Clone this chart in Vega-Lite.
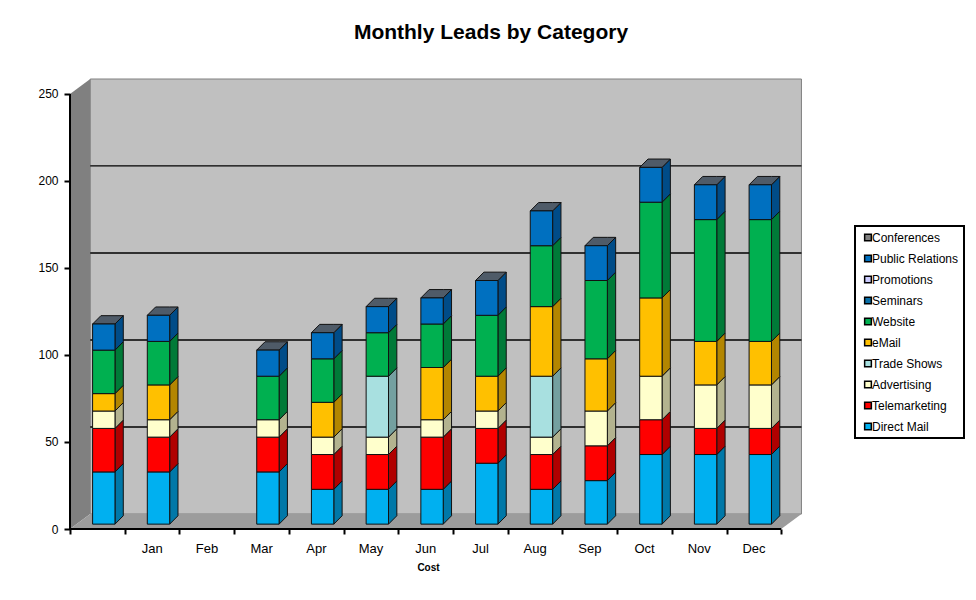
{"$schema":"https://vega.github.io/schema/vega-lite/v6.json","width":732,"height":450,"autosize":"none","padding":{"left":70,"top":79,"right":174,"bottom":71},"background":"white",
"title":{"text":"Monthly Leads by Category","font":"Liberation Sans","fontSize":21,"fontWeight":"bold","color":"black","anchor":"middle","dx":55,"offset":36},
"config":{"view":{"stroke":null},"legend":{"strokeWidth":2}},
"datasets":{"leads":[
{"month":"","category":"Direct Mail","value":30},{"month":"","category":"Telemarketing","value":25},{"month":"","category":"Advertising","value":10},{"month":"","category":"eMail","value":10},{"month":"","category":"Website","value":25},{"month":"","category":"Public Relations","value":15},
{"month":"Jan","category":"Direct Mail","value":30},{"month":"Jan","category":"Telemarketing","value":20},{"month":"Jan","category":"Advertising","value":10},{"month":"Jan","category":"eMail","value":20},{"month":"Jan","category":"Website","value":25},{"month":"Jan","category":"Public Relations","value":15},
{"month":"Mar","category":"Direct Mail","value":30},{"month":"Mar","category":"Telemarketing","value":20},{"month":"Mar","category":"Advertising","value":10},{"month":"Mar","category":"Website","value":25},{"month":"Mar","category":"Public Relations","value":15},
{"month":"Apr","category":"Direct Mail","value":20},{"month":"Apr","category":"Telemarketing","value":20},{"month":"Apr","category":"Advertising","value":10},{"month":"Apr","category":"eMail","value":20},{"month":"Apr","category":"Website","value":25},{"month":"Apr","category":"Public Relations","value":15},
{"month":"May","category":"Direct Mail","value":20},{"month":"May","category":"Telemarketing","value":20},{"month":"May","category":"Advertising","value":10},{"month":"May","category":"Trade Shows","value":35},{"month":"May","category":"Website","value":25},{"month":"May","category":"Public Relations","value":15},
{"month":"Jun","category":"Direct Mail","value":20},{"month":"Jun","category":"Telemarketing","value":30},{"month":"Jun","category":"Advertising","value":10},{"month":"Jun","category":"eMail","value":30},{"month":"Jun","category":"Website","value":25},{"month":"Jun","category":"Public Relations","value":15},
{"month":"Jul","category":"Direct Mail","value":35},{"month":"Jul","category":"Telemarketing","value":20},{"month":"Jul","category":"Advertising","value":10},{"month":"Jul","category":"eMail","value":20},{"month":"Jul","category":"Website","value":35},{"month":"Jul","category":"Public Relations","value":20},
{"month":"Aug","category":"Direct Mail","value":20},{"month":"Aug","category":"Telemarketing","value":20},{"month":"Aug","category":"Advertising","value":10},{"month":"Aug","category":"Trade Shows","value":35},{"month":"Aug","category":"eMail","value":40},{"month":"Aug","category":"Website","value":35},{"month":"Aug","category":"Public Relations","value":20},
{"month":"Sep","category":"Direct Mail","value":25},{"month":"Sep","category":"Telemarketing","value":20},{"month":"Sep","category":"Advertising","value":20},{"month":"Sep","category":"eMail","value":30},{"month":"Sep","category":"Website","value":45},{"month":"Sep","category":"Public Relations","value":20},
{"month":"Oct","category":"Direct Mail","value":40},{"month":"Oct","category":"Telemarketing","value":20},{"month":"Oct","category":"Advertising","value":25},{"month":"Oct","category":"eMail","value":45},{"month":"Oct","category":"Website","value":55},{"month":"Oct","category":"Public Relations","value":20},
{"month":"Nov","category":"Direct Mail","value":40},{"month":"Nov","category":"Telemarketing","value":15},{"month":"Nov","category":"Advertising","value":25},{"month":"Nov","category":"eMail","value":25},{"month":"Nov","category":"Website","value":70},{"month":"Nov","category":"Public Relations","value":20},
{"month":"Dec","category":"Direct Mail","value":40},{"month":"Dec","category":"Telemarketing","value":15},{"month":"Dec","category":"Advertising","value":25},{"month":"Dec","category":"eMail","value":25},{"month":"Dec","category":"Website","value":70},{"month":"Dec","category":"Public Relations","value":20}
],
"leftWall":[{"x":0,"y":0,"y2":250},{"x":0.37,"y":8.62,"y2":258.6}],
"floor":[{"x":0,"y":0,"y2":0},{"x":0.37,"y":0,"y2":8.62},{"x":13,"y":0,"y2":8.62},{"x":13.37,"y":8.62,"y2":8.62}],
"grid":[{"v":50},{"v":100},{"v":150},{"v":200}]},
"layer":[
{"data":{"values":[{}]},"mark":{"type":"rect","fill":"#C0C0C0","stroke":"#808080","strokeWidth":1},"encoding":{"x":{"datum":0.37,"type":"quantitative","scale":{"domain":[0,13.38],"nice":false,"zero":false},"axis":{"title":"Cost","titleFont":"Liberation Sans","titleFontSize":10,"titleFontWeight":"bold","titleColor":"black","titleX":358,"titleY":33,"domain":false,"grid":false,"values":[0,1,2,3,4,5,6,7,8,9,10,11,12,13],"labelExpr":"['','Jan','Feb','Mar','Apr','May','Jun','Jul','Aug','Sep','Oct','Nov','Dec',''][datum.value]","labelOffset":27,"labelFont":"Liberation Sans","labelFontSize":13,"labelColor":"black","labelPadding":8,"labelOverlap":false,"labelFlush":false,"labelBound":false,"tickColor":"black","tickWidth":2,"tickSize":5}},"x2":{"datum":13.37},"y":{"datum":8.62,"type":"quantitative","scale":{"domain":[0,258.6],"nice":false,"zero":false},"axis":{"title":null,"domain":false,"grid":false,"values":[0,50,100,150,200,250],"labelFont":"Liberation Sans","labelFontSize":12,"labelColor":"black","labelPadding":6,"tickColor":"black","tickWidth":2,"tickSize":6}},"y2":{"datum":258.6}}},
{"data":{"name":"leftWall"},"mark":{"type":"area","fill":"#808080"},"encoding":{"x":{"field":"x","type":"quantitative"},"y":{"field":"y","type":"quantitative"},"y2":{"field":"y2"}}},
{"data":{"name":"floor"},"mark":{"type":"area","fill":"#9C9C9C"},"encoding":{"x":{"field":"x","type":"quantitative"},"y":{"field":"y","type":"quantitative"},"y2":{"field":"y2"}}},
{"data":{"name":"grid"},"mark":{"type":"rule","stroke":"black","strokeWidth":1.3,"yOffset":-15},"encoding":{"x":{"datum":0.37,"type":"quantitative"},"x2":{"datum":13.37},"y":{"field":"v","type":"quantitative"}}},
{"data":{"values":[{}]},"mark":{"type":"rule","stroke":"black","strokeWidth":2},"encoding":{"x":{"datum":0,"type":"quantitative"},"y":{"datum":0,"type":"quantitative"},"y2":{"datum":250}}},
{"data":{"values":[{}]},"mark":{"type":"rule","stroke":"black","strokeWidth":2},"encoding":{"x":{"datum":0,"type":"quantitative"},"x2":{"datum":13},"y":{"datum":0,"type":"quantitative"}}},
{"data":{"name":"leads"},
"transform":[{"stack":"value","groupby":["month"],"as":["y0","y1"]},{"calculate":"indexof(['','Jan','Feb','Mar','Apr','May','Jun','Jul','Aug','Sep','Oct','Nov','Dec'],datum.month)","as":"i"},{"fold":["y0","y1"],"as":["edge","edgeValue"]},{"calculate":"datum.edge=='y1'?1:0","as":"k"},{"calculate":"datum.i+0.822+datum.k*0.152","as":"sx"},{"calculate":"datum.y1+2.8+datum.k*4.8","as":"st"},{"calculate":"datum.y0+2.8+datum.k*4.8","as":"sb"}],
"mark":{"type":"area","stroke":"#111","strokeWidth":1},
"encoding":{"x":{"field":"sx","type":"quantitative"},"y":{"field":"st","type":"quantitative"},"y2":{"field":"sb"},"detail":[{"field":"month"}],"color":{"field":"category","type":"nominal","legend":null,"scale":{"domain":["Conferences","Public Relations","Promotions","Seminars","Website","eMail","Trade Shows","Advertising","Telemarketing","Direct Mail"],"range":["#555555","#004C88","#8888AA","#004C70","#007A38","#B38600","#74A0A0","#B3B38F","#B00000","#0078A8"]}}}},
{"data":{"name":"leads"},
"transform":[{"stack":"value","groupby":["month"],"as":["y0","y1"]},{"calculate":"indexof(['','Jan','Feb','Mar','Apr','May','Jun','Jul','Aug','Sep','Oct','Nov','Dec'],datum.month)","as":"i"},{"joinaggregate":[{"op":"max","field":"y1","as":"top"}],"groupby":["month"]},{"filter":"datum.y1==datum.top"},{"fold":["a","b","c","d"],"as":["corner","cornerValue"]},{"calculate":"datum.i+(datum.corner=='a'?0.413:datum.corner=='b'?0.565:datum.corner=='c'?0.822:0.974)","as":"tx"},{"calculate":"datum.top+2.8+(datum.corner=='a'?0:4.8)","as":"tu"},{"calculate":"datum.top+2.8+(datum.corner=='d'?4.8:0)","as":"tl"}],
"mark":{"type":"area","fill":"#4F5B68","stroke":"#111","strokeWidth":1},
"encoding":{"x":{"field":"tx","type":"quantitative"},"y":{"field":"tu","type":"quantitative"},"y2":{"field":"tl"},"detail":{"field":"month"}}},
{"data":{"name":"leads"},
"transform":[{"stack":"value","groupby":["month"],"as":["y0","y1"]},{"calculate":"indexof(['','Jan','Feb','Mar','Apr','May','Jun','Jul','Aug','Sep','Oct','Nov','Dec'],datum.month)","as":"i"},{"calculate":"datum.i+0.413","as":"fx"},{"calculate":"datum.i+0.822","as":"fx2"},{"calculate":"datum.y1+2.8","as":"ft"},{"calculate":"datum.y0+2.8","as":"fb"}],
"mark":{"type":"rect","stroke":"#111","strokeWidth":1},
"encoding":{"x":{"field":"fx","type":"quantitative"},"x2":{"field":"fx2"},"y":{"field":"ft","type":"quantitative"},"y2":{"field":"fb"},
"color":{"field":"category","type":"nominal","scale":{"domain":["Conferences","Public Relations","Promotions","Seminars","Website","eMail","Trade Shows","Advertising","Telemarketing","Direct Mail"],"range":["#808080","#0070C0","#CCCCFF","#0A70A8","#00B050","#FFC000","#A8E0E0","#FFFFCC","#FF0000","#00B0F0"]},
"legend":{"orient":"none","legendX":785,"legendY":147,"title":null,"symbolType":"square","symbolSize":45,"symbolOffset":2,"symbolStrokeColor":"black","symbolStrokeWidth":1.5,"symbolOpacity":1,"labelFont":"Liberation Sans","labelFontSize":12,"labelColor":"black","labelOffset":-2,"labelExpr":"datum.label+'      '","rowPadding":8,"padding":5,"strokeColor":"black","fillColor":"white","labelLimit":200,"clipHeight":13}}}}
],
"resolve":{"scale":{"color":"independent"}}}
